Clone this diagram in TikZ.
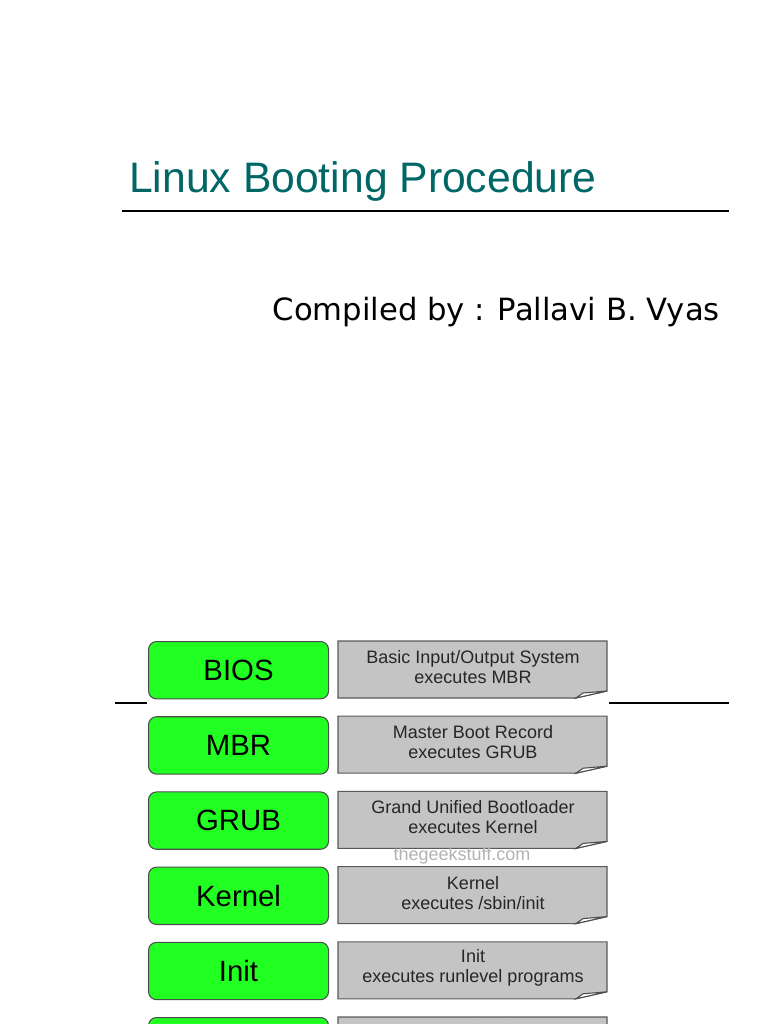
\documentclass[tikz,border=0pt]{standalone}
\usepackage{fontspec}
\setmainfont{Liberation Sans}
\newfontfamily\dvs{DejaVu Sans}
\definecolor{tealc}{RGB}{0,102,102}
\definecolor{grn}{RGB}{34,255,34}
\definecolor{gry}{RGB}{196,196,196}
\begin{document}
\begin{tikzpicture}[x=0.75pt,y=-0.75pt,
  stepbox/.style={draw=black!70,line width=0.8pt,fill=grn,rounded corners=6pt,minimum width=135pt,minimum height=43pt,inner sep=0pt,font=\fontsize{22}{22}\selectfont,anchor=north west},
  desc/.style={inner sep=0pt,align=center,font=\fontsize{13.5}{15}\selectfont,text=black!85}]
\useasboundingbox (0,0) rectangle (768,1024);
\clip (0,0) rectangle (768,1024);
\node[anchor=base west,text=tealc,font=\fontsize{32}{32}\selectfont,inner sep=0pt] (title) at (129,192) {Linux Booting Procedure};
\coordinate (l1) at (122,211); \coordinate (l2) at (729,211);
\draw[line width=1pt] (l1) -- (l2);
\node[anchor=east,font=\dvs\fontsize{23}{23}\selectfont,inner sep=0pt] (by) at (720,312) {Compiled by : Pallavi B. Vyas};
\coordinate (s1) at (115,703); \coordinate (s2) at (147,703);
\coordinate (s3) at (609,703); \coordinate (s4) at (729,703);
\draw[line width=0.8pt] (s1) -- (s2) (s3) -- (s4);
\foreach \i/\a/\b/\c in {0/BIOS/{Basic Input/Output System}/{executes MBR},
  1/MBR/{Master Boot Record}/{executes GRUB},
  2/GRUB/{Grand Unified Bootloader}/{executes Kernel},
  3/Kernel/Kernel/{executes /sbin/init},
  4/Init/Init/{executes runlevel programs},
  5/Runlevel/Runlevel/{programs executed}}{
  \pgfmathsetmacro\y{641+75.2*\i}
  \node[stepbox] (g\i) at (148,\y) {\a};
  \fill[gry,draw=black!65,line width=0.8pt] (338,\y) -- (607,\y) -- (607,\y+50) -- (576,\y+57) -- (338,\y+57) -- cycle;
  \fill[white,draw=black!70,line width=0.8pt] (576,\y+57) -- (583,\y+52) -- (607,\y+50) -- cycle;
  \node[desc] (d\i) at (473,\y+26) {\b\\\c};
}
\node[text=black!30,font=\fontsize{13.5}{13.5}\selectfont,inner sep=0pt] (wm) at (462,856) {thegeekstuff.com};
\end{tikzpicture}
\end{document}
